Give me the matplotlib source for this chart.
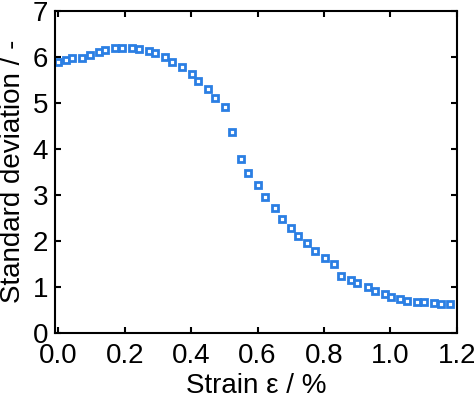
import matplotlib
matplotlib.use("Agg")
import matplotlib.pyplot as plt

strain = [0.0, 0.022, 0.042, 0.072, 0.094, 0.122, 0.142, 0.172, 0.192, 0.222, 0.242,
          0.272, 0.292, 0.322, 0.342, 0.372, 0.402, 0.422, 0.452, 0.471, 0.501, 0.522,
          0.550, 0.572, 0.602, 0.622, 0.652, 0.672, 0.700, 0.722, 0.750, 0.772, 0.802,
          0.830, 0.852, 0.880, 0.900, 0.932, 0.952, 0.982, 1.002, 1.030, 1.050, 1.080,
          1.100, 1.130, 1.152, 1.180]
std_dev = [5.89, 5.92, 5.96, 5.98, 6.03, 6.09, 6.14, 6.18, 6.19, 6.19, 6.16,
           6.12, 6.07, 6.00, 5.89, 5.77, 5.62, 5.47, 5.29, 5.09, 4.91, 4.35,
           3.77, 3.48, 3.21, 2.94, 2.70, 2.47, 2.28, 2.10, 1.94, 1.78, 1.63,
           1.48, 1.23, 1.14, 1.07, 0.98, 0.91, 0.84, 0.78, 0.74, 0.69, 0.67,
           0.66, 0.65, 0.63, 0.62]
xticks = [0.0, 0.2, 0.4, 0.6, 0.8, 1.0, 1.2]
xticklabels = ["0.0", "0.2", "0.4", "0.6", "0.8", "1.0", "1.2"]
yticks = [0, 1, 2, 3, 4, 5, 6, 7]

plt.rcParams['font.family'] = ['Liberation Sans', 'DejaVu Sans']

fig = plt.figure(figsize=(4.74, 3.94), dpi=100)
ax = fig.add_axes([0.116, 0.156, 0.848, 0.817])
ax.plot(strain, std_dev, linestyle='none', marker='s', markersize=4.8,
        markerfacecolor='white', markeredgecolor='#2b7fe3', markeredgewidth=2.0)
ax.set_xlim(-0.01, 1.2)
ax.set_ylim(0, 7)
ax.set_xticks(xticks)
ax.set_xticklabels(xticklabels)
ax.set_yticks(yticks)
ax.tick_params(direction='in', length=4, width=1.5, labelsize=20,
               top=True, right=True)
ax.tick_params(axis='x', pad=7.5)
ax.tick_params(axis='y', pad=5)
for s in ax.spines.values():
    s.set_linewidth(1.5)
ax.set_xlabel("Strain ε / %", fontsize=20, labelpad=3)
ax.set_ylabel("Standard deviation / -", fontsize=20, labelpad=5)
fig.savefig("out.png", dpi=100)
